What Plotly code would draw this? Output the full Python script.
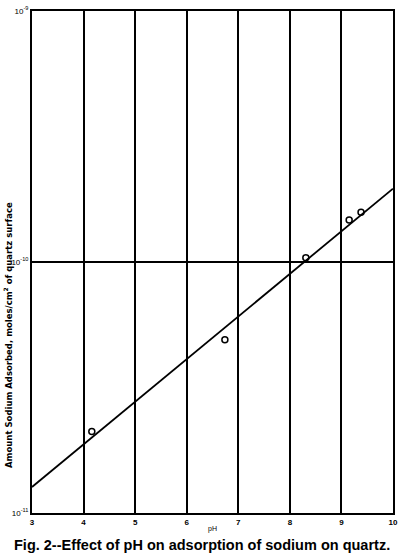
import plotly.graph_objs as go

ph = [4.16, 6.74, 8.31, 9.15, 9.38]
adsorbed = [2.11e-11, 4.9e-11, 1.04e-10, 1.47e-10, 1.58e-10]

# fitted line end points
fit_ph = [3, 10]
fit_adsorbed = [1.27e-11, 1.96e-10]

x_ticks = [3, 4, 5, 6, 7, 8, 9, 10]
y_ticks = [1e-11, 1e-10, 1e-9]
y_ticktext = ['10<sup>-11</sup>', '10<sup>-10</sup>', '10<sup>-9</sup>']

fig = go.Figure()
fig.add_trace(go.Scatter(x=fit_ph, y=fit_adsorbed, mode='lines',
                         line=dict(color='black', width=1.8),
                         showlegend=False, hoverinfo='skip'))
fig.add_trace(go.Scatter(x=ph, y=adsorbed, mode='markers',
                         marker=dict(symbol='circle-open', size=6,
                                     color='black', line=dict(width=1.5)),
                         showlegend=False))

fig.update_layout(
    width=400, height=555, autosize=False,
    margin=dict(l=32, r=7, t=11, b=42, pad=0),
    paper_bgcolor='white', plot_bgcolor='white',
    font=dict(family='Liberation Sans', color='black'),
    xaxis=dict(range=[3, 10], tickvals=x_ticks, showgrid=True, automargin=False,
               gridcolor='black', gridwidth=1.5, zeroline=False,
               showline=True, linecolor='black', linewidth=2, mirror=True,
               ticks='', tickfont=dict(size=8, family='Liberation Sans', weight='bold',
                                       color='black'),
               ticklen=0),
    yaxis=dict(type='log', range=[-11, -9], tickvals=y_ticks, ticktext=y_ticktext,
               automargin=False,
               showgrid=True, gridcolor='black', gridwidth=1.5, zeroline=False,
               showline=True, linecolor='black', linewidth=2, mirror=True,
               ticks='', tickfont=dict(size=8, family='Liberation Sans', color='black')),
    annotations=[
        dict(text='pH', x=0.5, y=-0.02, xref='paper', yref='paper',
             showarrow=False, font=dict(size=7, color='black'),
             xanchor='center', yanchor='top'),
        dict(text='Amount Sodium Adsorbed, moles/cm<sup>2</sup> of quartz surface',
             x=-0.066, y=0.355, xref='paper', yref='paper', textangle=-90,
             showarrow=False, font=dict(size=8.5, family='DejaVu Sans', weight='bold',
                                        color='black'),
             xanchor='center', yanchor='middle'),
        dict(text='<b>Fig. 2--Effect of pH on adsorption of sodium on quartz.</b>',
             x=0.47, y=-0.044, xref='paper', yref='paper', showarrow=False,
             font=dict(size=14.5, family='Liberation Sans', color='black'),
             xanchor='center', yanchor='top'),
    ],
)

fig.write_html("out.html", config={'displayModeBar': False},
               post_script="document.body.style.margin='0';")
